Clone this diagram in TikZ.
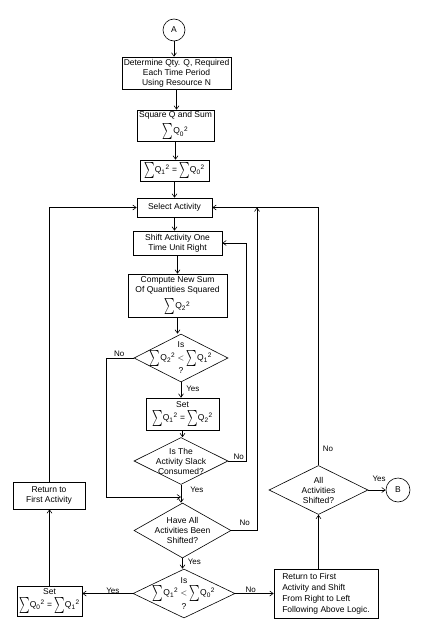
\documentclass[tikz,border=0pt]{standalone}
\usepackage{graphicx}
\usepackage{fontspec}
\setmainfont{Liberation Sans}
\usetikzlibrary{shapes.geometric,positioning,arrows.meta}
\newcommand{\ssz}{\fontsize{6.5}{7}\selectfont}
\newcommand{\bigsig}{\vcenter{\hbox{\scalebox{1}[1.6]{$\sum$}}}}
\newcommand{\sumq}[1]{$\bigsig\mbox{Q}_{\mbox{\ssz #1}}{}^{\mbox{\ssz 2}}$}

\tikzset{
  box/.style={draw, align=center, inner sep=1pt},
  decision/.style={draw, diamond, inner sep=0pt},
  dtext/.style={align=center, inner sep=0pt},
  conn/.style={draw, circle, minimum size=22pt, inner sep=0pt},
  lbl/.style={font=\fontsize{8}{9}\selectfont, inner sep=0pt},
}

\begin{document}
\begin{tikzpicture}[x=1pt, y=-1pt, line width=0.6pt,
    >={Straight Barb[length=3.5pt,width=5pt]},
    font=\fontsize{8.5}{10}\selectfont]

  \useasboundingbox[fill=white] (0,0) rectangle (434,629);

  % ── Main column: set-up ─────────────────────────────────────
  \node[conn] (A) at (174,30) {A};
  \node[box, minimum width=109pt, minimum height=32pt] (det) at (176.5,73)
    {Determine Qty. Q, Required\\Each Time Period\\Using Resource N};
  \node[box, minimum width=77pt, minimum height=31pt] (sq) at (175.5,125.5)
    {Square Q and Sum\\[4pt]\sumq{0}};
  \node[box, minimum width=69pt, minimum height=21pt] (eq0) at (174.5,170.5)
    {\sumq{1} = \sumq{0}};
  \node[box, minimum width=75pt, minimum height=19pt] (sel) at (174.5,207.5)
    {Select Activity};

  % ── Main column: shifting loop ──────────────────────────────
  \node[box, minimum width=89pt, minimum height=24pt] (shift) at (177.5,243)
    {Shift Activity One\\Time Unit Right};
  \node[box, minimum width=99pt, minimum height=43pt] (comp) at (177.5,295.5)
    {Compute New Sum\\Of Quantities Squared\\[4pt]\sumq{2}};
  \node[decision, minimum width=94pt, minimum height=48pt] (d1) at (181,358) {};
  \node[dtext] (d1t) at (d1) {Is\\[1pt]\sumq{2} $<$ \sumq{1}\\[1pt]?};
  \node[box, minimum width=73pt, minimum height=32pt] (set1) at (182.5,414)
    {Set\\[1pt]\sumq{1} = \sumq{2}};
  \node[decision, minimum width=94pt, minimum height=47pt] (d2) at (181,461) {};
  \node[dtext] (d2t) at (d2) {Is The\\Activity Slack\\Consumed?};
  \node[decision, minimum width=97pt, minimum height=55pt] (d3) at (182.5,530.5) {};
  \node[dtext] (d3t) at (d3) {Have All\\Activities Been\\Shifted?};
  \node[decision, minimum width=102pt, minimum height=49pt] (d4) at (184,593.5) {};
  \node[dtext] (d4t) at (d4) {Is\\[1pt]\sumq{1} $<$ \sumq{0}\\[1pt]?};

  % ── Left branch ─────────────────────────────────────────────
  \node[box, minimum width=65pt, minimum height=30pt] (set0) at (49.5,601)
    {Set\\[1pt]\sumq{0} = \sumq{1}};
  \node[box, minimum width=72pt, minimum height=27pt] (ret) at (49,495.5)
    {Return to\\First Activity};

  % ── Right branch ────────────────────────────────────────────
  \node[box, align=left, minimum width=104pt, minimum height=49pt,
        font=\fontsize{8.5}{11}\selectfont] (rbox) at (326,593.5)
    {Return to First\\Activity and Shift\\From Right to Left\\Following Above Logic.};
  \node[decision, minimum width=99pt, minimum height=49pt] (d5) at (318.5,490) {};
  \node[dtext] (d5t) at (d5) {All\\Activities\\Shifted?};
  \node[conn, minimum size=24pt] (B) at (398,490) {B};

  % helper coordinates for the return lines
  \coordinate (c1) at (106,497);
  \coordinate (j1) at (d2.south |- c1);
  \coordinate (c2) at (246,0);
  \coordinate (c3) at (257,0);

  % ── Straight-down edges ─────────────────────────────────────
  \draw[->] (A) -- (A |- det.north);
  \draw[->] (det) -- (det |- sq.north);
  \draw[->] (sq) -- (sq |- eq0.north);
  \draw[->] (eq0) -- (eq0 |- sel.north);
  \draw[->] (sel) -- (sel |- shift.north);
  \draw[->] (shift) -- (shift |- comp.north);
  \draw[->] (comp) -- (comp |- d1.north);
  \draw[->] (d1) -- (d1 |- set1.north);
  \draw[->] (set1) -- (set1 |- d2.north);
  \draw[->] (d2) -- (d2 |- d3.north);
  \draw[->] (d3) -- (d3 |- d4.north);

  % ── Loops back ──────────────────────────────────────────────
  % Q2 not smaller: skip to the "all shifted" test
  \draw[->] (d1.west) -| (c1) -- (j1);
  % slack not consumed: shift once more
  \draw[->] (d2.east) -- (d2.east -| c2) |- (shift.east);
  % not all shifted: next activity
  \draw[->] (d3.east) -- (d3.east -| c3) -- (c3 |- sel.east);

  % ── Bottom decision ─────────────────────────────────────────
  \draw[->] (d4.west) -- (d4.west -| set0.east);
  \draw[->] (set0) -- (set0 |- ret.south);
  \draw[->] (ret.north) |- (sel.west);
  \draw[->] (d4.east) -- (d4.east -| rbox.west);
  \draw[->] (d5 |- rbox.north) -- (d5.south);
  \draw[->] (d5.north) |- (sel.east);
  \draw[->] (d5.east) -- (d5.east -| B.west);

  % ── Edge labels ─────────────────────────────────────────────
  \node[lbl, above left=1pt and 9pt of d1.west] (no1) {No};
  \node[lbl, below right=3pt and 5pt of d1.south] (yes1) {Yes};
  \node[lbl, above right=1pt and 5pt of d2.east] (no2) {No};
  \node[lbl, below right=2pt and 9pt of d2.south] (yes2) {Yes};
  \node[lbl, above right=5pt and 8pt of d3.east] (no3) {No};
  \node[lbl, below right=0pt and 5pt of d3.south] (yes3) {Yes};
  \node[lbl, above right=1pt and 10pt of d4.east] (no4) {No};
  \node[lbl, above left=0pt and 13pt of d4.west] (yes4) {Yes};
  \node[lbl, above right=13pt and 4pt of d5.north] (no5) {No};
  \node[lbl, above right=8pt and 4pt of d5.east] (yes5) {Yes};

\end{tikzpicture}
\end{document}
